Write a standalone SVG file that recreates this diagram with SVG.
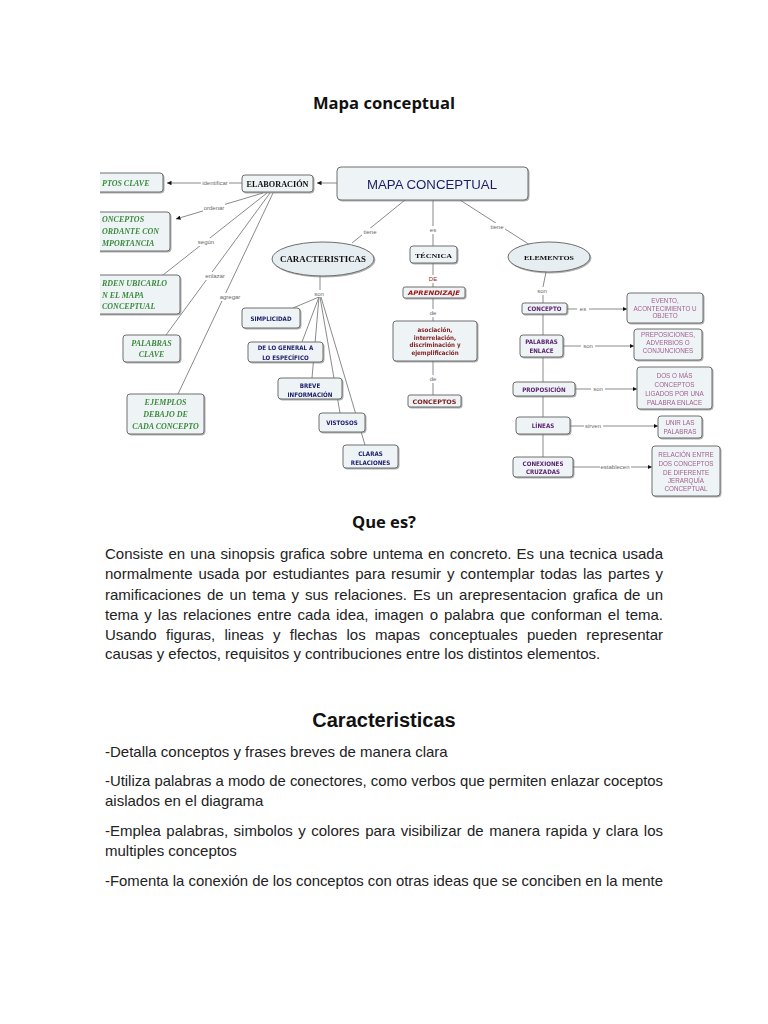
<svg xmlns="http://www.w3.org/2000/svg" width="768" height="1024" viewBox="0 0 768 1024">
<defs>
<style>
.box{fill:#eef3f6;stroke:#6e6e6e;stroke-width:1}
.ell{fill:#e7eef2;stroke:#6e6e6e;stroke-width:1}
.ln{stroke:#7d7d7d;stroke-width:0.9;fill:none}
.lbl{font-family:"Liberation Sans",Arial,sans-serif;font-size:6px;fill:#6a6a6a;text-anchor:middle}
.bg{fill:#ffffff}
.g{font-family:"Liberation Serif",serif;font-style:italic;font-weight:bold;font-size:8px;fill:#3d8b3d;text-anchor:middle}
.gs{font-family:"Liberation Serif",serif;font-style:italic;font-weight:bold;font-size:8px;fill:#3d8b3d}
.blk{font-family:"Liberation Serif",serif;font-weight:bold;font-size:8px;fill:#111;text-anchor:middle}
.nv{font-family:"DejaVu Sans Condensed","DejaVu Sans",sans-serif;font-weight:bold;font-size:6.2px;fill:#1c1c6a;text-anchor:middle}
.pu{font-family:"DejaVu Sans Condensed","DejaVu Sans",sans-serif;font-weight:bold;font-size:6.2px;fill:#5b1f6e;text-anchor:middle}
.dr{font-family:"DejaVu Sans Condensed","DejaVu Sans",sans-serif;font-weight:bold;font-size:6.2px;fill:#7e1e1e;text-anchor:middle}
.rt{font-family:"Liberation Sans",Arial,sans-serif;font-size:6.3px;fill:#a0608f;text-anchor:middle}
.h1{font-family:"Open Sans","Liberation Sans",sans-serif;font-weight:bold;font-size:16px;fill:#111;text-anchor:middle}
.h2{font-family:"Liberation Sans",Arial,sans-serif;font-weight:bold;font-size:20px;fill:#111;text-anchor:middle}
.body{font-family:"Liberation Sans",Arial,sans-serif;font-size:15px;fill:#222}
</style>
<marker id="ah" viewBox="0 0 10 10" refX="10" refY="5" markerWidth="5" markerHeight="5" orient="auto">
<path d="M0,0 L10,5 L0,10 z" fill="#111"/>
</marker>
<clipPath id="clipL"><rect x="100" y="150" width="660" height="360"/></clipPath>
<filter id="sh" x="-10%" y="-10%" width="130%" height="140%">
<feDropShadow dx="1" dy="1" stdDeviation="0.6" flood-color="#777" flood-opacity="0.6"/>
</filter>
</defs>
<rect width="768" height="1024" fill="#ffffff"/>

<text class="h1" x="384" y="109" textLength="142" lengthAdjust="spacingAndGlyphs">Mapa conceptual</text>

<g clip-path="url(#clipL)">
<g id="connectors">
<line class="ln" x1="337" y1="183" x2="317" y2="183" marker-end="url(#ah)"/>
<line class="ln" x1="242" y1="183" x2="167" y2="183" marker-end="url(#ah)"/>
<line class="ln" x1="263" y1="193" x2="176" y2="219" marker-end="url(#ah)"/>
<line class="ln" x1="267" y1="193" x2="163" y2="275"/>
<line class="ln" x1="270" y1="193" x2="166" y2="335"/>
<line class="ln" x1="273" y1="193" x2="178" y2="394"/>
<line class="ln" x1="405" y1="200" x2="352" y2="243"/>
<line class="ln" x1="433" y1="200" x2="433" y2="246"/>
<line class="ln" x1="460" y1="200" x2="530" y2="245"/>
<line class="ln" x1="433" y1="263" x2="433" y2="287"/>
<line class="ln" x1="433" y1="298" x2="433" y2="321"/>
<line class="ln" x1="433" y1="361" x2="433" y2="395"/>
<line class="ln" x1="320" y1="276" x2="320" y2="290"/>
<line class="ln" x1="319" y1="297" x2="293" y2="308"/>
<line class="ln" x1="319" y1="297" x2="302" y2="342"/>
<line class="ln" x1="319" y1="297" x2="312" y2="378"/>
<line class="ln" x1="320" y1="297" x2="340" y2="413"/>
<line class="ln" x1="321" y1="297" x2="365" y2="445"/>
<line class="ln" x1="546" y1="272" x2="543" y2="287"/>
<line class="ln" x1="543" y1="295" x2="543" y2="457"/>
<line class="ln" x1="567" y1="309" x2="627" y2="309" marker-end="url(#ah)"/>
<line class="ln" x1="563" y1="346" x2="634" y2="346" marker-end="url(#ah)"/>
<line class="ln" x1="575" y1="389" x2="637" y2="389" marker-end="url(#ah)"/>
<line class="ln" x1="570" y1="426" x2="658" y2="426" marker-end="url(#ah)"/>
<line class="ln" x1="573" y1="467" x2="652" y2="467" marker-end="url(#ah)"/>
<rect class="bg" x="201" y="179" width="28" height="8"/>
<text class="lbl" x="215" y="185">identificar</text>
<rect class="bg" x="203" y="204" width="22" height="8"/>
<text class="lbl" x="214" y="210">ordenar</text>
<rect class="bg" x="198" y="238" width="16" height="8"/>
<text class="lbl" x="206" y="244">según</text>
<rect class="bg" x="204" y="272" width="22" height="8"/>
<text class="lbl" x="215" y="278">enlazar</text>
<rect class="bg" x="219" y="293" width="22" height="8"/>
<text class="lbl" x="230" y="299">agregar</text>
<rect class="bg" x="362" y="228" width="16" height="8"/>
<text class="lbl" x="370" y="234">tiene</text>
<rect class="bg" x="427" y="226" width="11" height="8"/>
<text class="lbl" x="433" y="232">es</text>
<rect class="bg" x="489" y="223" width="16" height="8"/>
<text class="lbl" x="497" y="229">tiene</text>
<rect class="bg" x="427" y="275" width="12" height="8"/>
<text class="lbl" x="433" y="281" style="fill:#8a2a2a">DE</text>
<rect class="bg" x="427" y="309" width="12" height="8"/>
<text class="lbl" x="433" y="315">de</text>
<rect class="bg" x="427" y="375" width="12" height="8"/>
<text class="lbl" x="433" y="381">de</text>
<rect class="bg" x="313" y="290" width="13" height="7"/>
<text class="lbl" x="319" y="296">son</text>
<rect class="bg" x="536" y="287" width="13" height="7"/>
<text class="lbl" x="542" y="293">son</text>
<rect class="bg" x="577" y="305" width="12" height="8"/>
<text class="lbl" x="583" y="311">es</text>
<rect class="bg" x="581" y="342" width="14" height="8"/>
<text class="lbl" x="588" y="348">son</text>
<rect class="bg" x="591" y="385" width="14" height="8"/>
<text class="lbl" x="598" y="391">son</text>
<rect class="bg" x="584" y="422" width="19" height="8"/>
<text class="lbl" x="593" y="428">sirven</text>
<rect class="bg" x="600" y="463" width="31" height="8"/>
<text class="lbl" x="615" y="469">establecen</text>
</g>

<g id="n-mapa" filter="url(#sh)">
<rect class="box" x="337" y="167" width="191" height="33" rx="4"/>
<text x="432" y="189" font-family="Liberation Sans, Arial, sans-serif" font-size="13" fill="#1f1f66" text-anchor="middle" textLength="130" lengthAdjust="spacingAndGlyphs">MAPA CONCEPTUAL</text>
</g>
<g id="n-elaboracion" filter="url(#sh)">
<rect class="box" x="242" y="175" width="71" height="17" rx="3"/>
<text class="blk" x="277.5" y="186.5" textLength="62" lengthAdjust="spacingAndGlyphs">ELABORACIÓN</text>
</g>
<g id="n-clave" filter="url(#sh)">
<rect class="box" x="88" y="173" width="75" height="19" rx="3"/>
<text class="gs" x="102" y="186">PTOS CLAVE</text>
</g>
<g id="n-ordenante" filter="url(#sh)">
<rect class="box" x="88" y="212" width="82" height="39" rx="3"/>
<text class="gs" x="102" y="222">ONCEPTOS</text>
<text class="gs" x="102" y="234">ORDANTE CON</text>
<text class="gs" x="102" y="246">MPORTANCIA</text>
</g>
<g id="n-orden" filter="url(#sh)">
<rect class="box" x="88" y="275" width="92" height="39" rx="3"/>
<text class="gs" x="102" y="286">RDEN UBICARLO</text>
<text class="gs" x="102" y="298">N EL MAPA</text>
<text class="gs" x="102" y="309">CONCEPTUAL</text>
</g>
<g id="n-palabrasclave" filter="url(#sh)">
<rect class="box" x="123" y="335" width="57" height="27" rx="3"/>
<text class="g" x="151.5" y="346">PALABRAS</text>
<text class="g" x="151.5" y="357">CLAVE</text>
</g>
<g id="n-ejemplos" filter="url(#sh)">
<rect class="box" x="127" y="394" width="77" height="40" rx="3"/>
<text class="g" x="165.5" y="405">EJEMPLOS</text>
<text class="g" x="165.5" y="417">DEBAJO DE</text>
<text class="g" x="165.5" y="429">CADA CONCEPTO</text>
</g>

<g id="n-caracteristicas" filter="url(#sh)">
<ellipse class="ell" cx="323" cy="259" rx="51" ry="17"/>
<text class="blk" x="323" y="262" textLength="86" lengthAdjust="spacingAndGlyphs">CARACTERISTICAS</text>
</g>
<g id="n-tecnica" filter="url(#sh)">
<rect class="box" x="410" y="246" width="47" height="17" rx="3"/>
<text class="blk" x="433.5" y="257.5" style="font-size:7px" textLength="37" lengthAdjust="spacingAndGlyphs">TÉCNICA</text>
</g>
<g id="n-elementos" filter="url(#sh)">
<ellipse class="ell" cx="549" cy="257" rx="41" ry="15"/>
<text class="blk" x="549" y="260" style="font-size:7px" textLength="50" lengthAdjust="spacingAndGlyphs">ELEMENTOS</text>
</g>

<g id="n-aprendizaje" filter="url(#sh)">
<rect class="box" x="403" y="287" width="62" height="11" rx="2"/>
<text class="dr" x="434" y="295" style="font-style:italic;fill:#a01818" textLength="52" lengthAdjust="spacingAndGlyphs">APRENDIZAJE</text>
</g>
<g id="n-asociacion" filter="url(#sh)">
<rect class="box" x="393" y="321" width="84" height="40" rx="3"/>
<text class="dr" x="435" y="331.5">asociación,</text>
<text class="dr" x="435" y="339.5">interrelación,</text>
<text class="dr" x="435" y="347">discriminación y</text>
<text class="dr" x="435" y="355">ejemplificación</text>
</g>
<g id="n-conceptos" filter="url(#sh)">
<rect class="box" x="408" y="395" width="53" height="12" rx="2"/>
<text class="dr" x="434.5" y="403.5" textLength="44" lengthAdjust="spacingAndGlyphs">CONCEPTOS</text>
</g>

<g id="n-simplicidad" filter="url(#sh)">
<rect class="box" x="242" y="308" width="58" height="20" rx="3"/>
<text class="nv" x="271" y="320.5">SIMPLICIDAD</text>
</g>
<g id="n-general" filter="url(#sh)">
<rect class="box" x="248" y="342" width="75" height="20" rx="3"/>
<text class="nv" x="285.5" y="350">DE LO GENERAL A</text>
<text class="nv" x="285.5" y="359.5">LO ESPECÍFICO</text>
</g>
<g id="n-breve" filter="url(#sh)">
<rect class="box" x="278" y="378" width="64" height="21" rx="3"/>
<text class="nv" x="310" y="388">BREVE</text>
<text class="nv" x="310" y="396.5">INFORMACIÓN</text>
</g>
<g id="n-vistosos" filter="url(#sh)">
<rect class="box" x="319" y="413" width="46" height="19" rx="3"/>
<text class="nv" x="342" y="425">VISTOSOS</text>
</g>
<g id="n-claras" filter="url(#sh)">
<rect class="box" x="343" y="445" width="55" height="23" rx="3"/>
<text class="nv" x="370.5" y="455.5">CLARAS</text>
<text class="nv" x="370.5" y="464.5">RELACIONES</text>
</g>

<g id="n-concepto" filter="url(#sh)">
<rect class="box" x="522" y="303" width="45" height="11" rx="2"/>
<text class="pu" x="544.5" y="311">CONCEPTO</text>
</g>
<g id="n-enlace" filter="url(#sh)">
<rect class="box" x="520" y="335" width="43" height="22" rx="3"/>
<text class="pu" x="541.5" y="343.5">PALABRAS</text>
<text class="pu" x="541.5" y="353">ENLACE</text>
</g>
<g id="n-proposicion" filter="url(#sh)">
<rect class="box" x="513" y="382" width="62" height="14" rx="3"/>
<text class="pu" x="544" y="391.5">PROPOSICIÓN</text>
</g>
<g id="n-lineas" filter="url(#sh)">
<rect class="box" x="516" y="417" width="54" height="17" rx="3"/>
<text class="pu" x="543" y="428">LÍNEAS</text>
</g>
<g id="n-conexiones" filter="url(#sh)">
<rect class="box" x="513" y="457" width="60" height="20" rx="3"/>
<text class="pu" x="543" y="465.5">CONEXIONES</text>
<text class="pu" x="543" y="474">CRUZADAS</text>
</g>

<g id="n-evento" filter="url(#sh)">
<rect class="box" x="627" y="293" width="76" height="30" rx="3"/>
<text class="rt" x="665" y="303">EVENTO,</text>
<text class="rt" x="665" y="310.5">ACONTECIMIENTO U</text>
<text class="rt" x="665" y="318">OBJETO</text>
</g>
<g id="n-preposiciones" filter="url(#sh)">
<rect class="box" x="634" y="329" width="68" height="31" rx="3"/>
<text class="rt" x="668" y="336.5">PREPOSICIONES,</text>
<text class="rt" x="668" y="344.5">ADVERBIOS O</text>
<text class="rt" x="668" y="352.5">CONJUNCIONES</text>
</g>
<g id="n-dos" filter="url(#sh)">
<rect class="box" x="637" y="367" width="75" height="42" rx="3"/>
<text class="rt" x="674.5" y="377.5">DOS O MÁS</text>
<text class="rt" x="674.5" y="386.5">CONCEPTOS</text>
<text class="rt" x="674.5" y="395.5">LIGADOS POR UNA</text>
<text class="rt" x="674.5" y="404.5">PALABRA ENLACE</text>
</g>
<g id="n-unir" filter="url(#sh)">
<rect class="box" x="658" y="416" width="44" height="22" rx="3"/>
<text class="rt" x="680" y="424.5">UNIR LAS</text>
<text class="rt" x="680" y="433.5">PALABRAS</text>
</g>
<g id="n-relacion" filter="url(#sh)">
<rect class="box" x="652" y="446" width="68" height="50" rx="3"/>
<text class="rt" x="686" y="456.5">RELACIÓN ENTRE</text>
<text class="rt" x="686" y="465.5">DOS CONCEPTOS</text>
<text class="rt" x="686" y="474.5">DE DIFERENTE</text>
<text class="rt" x="686" y="483">JERARQUÍA</text>
<text class="rt" x="686" y="491">CONCEPTUAL</text>
</g>
</g>

<text class="h1" x="384" y="528" textLength="64" lengthAdjust="spacingAndGlyphs">Que es?</text>

<text class="body" x="105" y="559" word-spacing="1" textLength="558" lengthAdjust="spacing">Consiste en una sinopsis grafica sobre untema en concreto. Es una tecnica usada</text>
<text class="body" x="105" y="579" word-spacing="1.7" textLength="558" lengthAdjust="spacing">normalmente usada por estudiantes para resumir y contemplar todas las partes y</text>
<text class="body" x="105" y="600" word-spacing="1.8" textLength="558" lengthAdjust="spacing">ramificaciones de un tema y sus relaciones. Es un arepresentacion grafica de un</text>
<text class="body" x="105" y="620" word-spacing="1.8" textLength="558" lengthAdjust="spacing">tema y las relaciones entre cada idea, imagen o palabra que conforman el tema.</text>
<text class="body" x="105" y="640" word-spacing="5.1" textLength="558" lengthAdjust="spacing">Usando figuras, lineas y flechas los mapas conceptuales pueden representar</text>
<text class="body" x="105" y="659">causas y efectos, requisitos y contribuciones entre los distintos elementos.</text>

<text class="h2" x="384" y="727">Caracteristicas</text>

<text class="body" x="105" y="757">-Detalla conceptos y frases breves de manera clara</text>
<text class="body" x="105" y="786" textLength="558" lengthAdjust="spacingAndGlyphs">-Utiliza palabras a modo de conectores, como verbos que permiten enlazar coceptos</text>
<text class="body" x="105" y="806">aislados en el diagrama</text>
<text class="body" x="105" y="836" word-spacing="1.35" textLength="558" lengthAdjust="spacing">-Emplea palabras, simbolos y colores para visibilizar de manera rapida y clara los</text>
<text class="body" x="105" y="856">multiples conceptos</text>
<text class="body" x="105" y="886" textLength="558" lengthAdjust="spacingAndGlyphs">-Fomenta la conexión de los conceptos con otras ideas que se conciben en la mente</text>
</svg>
